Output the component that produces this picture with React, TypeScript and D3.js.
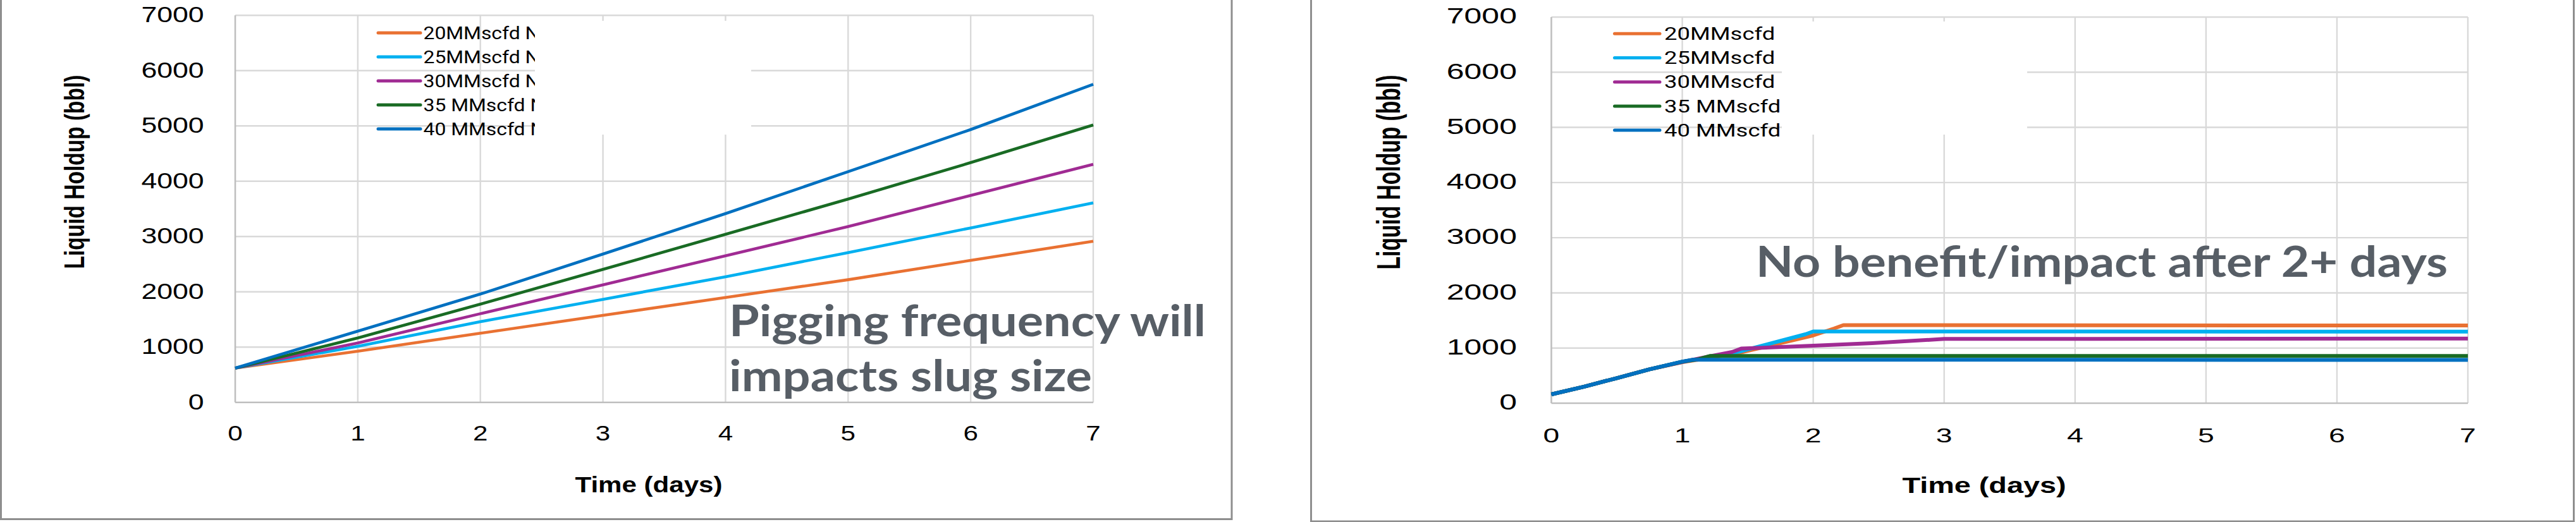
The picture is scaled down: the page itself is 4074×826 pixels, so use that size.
import React from "react";
import * as d3 from "d3";

// ---------- DATA ----------
const seriesNames = ["20MMscfd", "25MMscfd", "30MMscfd", "35 MMscfd", "40 MMscfd"];
const seriesColors = ["#E97132", "#00B0F0", "#A02B93", "#196B24", "#0070C0"];
const leftLegendLabels = [
  "20MMscfd No Pigging",
  "25MMscfd No Pigging",
  "30MMscfd No Pigging",
  "35 MMscfd No Pigging",
  "40 MMscfd No Pigging",
];
const rightLegendLabels = [
  "20MMscfd Pigging",
  "25MMscfd Pigging",
  "30MMscfd Pigging",
  "35 MMscfd Pigging",
  "40 MMscfd Pigging",
];
const yTicks = [0, 1000, 2000, 3000, 4000, 5000, 6000, 7000];
const xTicks = [0, 1, 2, 3, 4, 5, 6, 7];

// Left chart: no pigging (days 0..7)
const leftDays = [0, 1, 2, 3, 4, 5, 6, 7];
const left20 = [620, 926, 1251, 1575, 1898, 2219, 2569, 2915];
const left25 = [620, 1015, 1461, 1864, 2272, 2710, 3156, 3609];
const left30 = [620, 1075, 1605, 2127, 2653, 3180, 3743, 4306];
const left35 = [620, 1166, 1777, 2406, 3040, 3678, 4337, 5018];
const left40 = [620, 1289, 1960, 2683, 3415, 4173, 4935, 5754];

// Right chart: with pigging
const right20Days = [0, 0.25, 0.5, 0.75, 1.0, 1.2, 1.45, 2.0, 2.16, 2.23, 7];
const right20 = [160, 300, 455, 615, 745, 820, 920, 1229, 1355, 1415, 1408];
const right25Days = [0, 0.25, 0.5, 0.75, 1.0, 1.2, 1.45, 1.94, 2.0, 7];
const right25 = [160, 300, 455, 615, 750, 835, 943, 1249, 1300, 1298];
const right30Days = [0, 0.25, 0.5, 0.75, 1.0, 1.2, 1.38, 1.45, 2.0, 2.45, 3.0, 7];
const right30 = [160, 300, 455, 615, 748, 845, 928, 990, 1042, 1088, 1165, 1172];
const right35Days = [0, 0.25, 0.5, 0.75, 1.0, 1.13, 1.21, 7];
const right35 = [160, 300, 455, 615, 752, 800, 855, 855];
const right40Days = [0, 0.25, 0.5, 0.75, 1.0, 1.08, 7];
const right40 = [160, 300, 455, 615, 755, 788, 785];

const leftSeries = [left20, left25, left30, left35, left40].map((vals) =>
  vals.map((v, i) => [leftDays[i], v] as [number, number])
);
const rightSeries = [
  [right20Days, right20],
  [right25Days, right25],
  [right30Days, right30],
  [right35Days, right35],
  [right40Days, right40],
].map(([ds, vs]) => (vs as number[]).map((v, i) => [(ds as number[])[i], v] as [number, number]));

// ---------- LAYOUT ----------
const W = 4074;
const H = 826;

type PanelCfg = {
  x0: number; x1: number; y0: number; y1: number;
  sx: number; lineW: number;
  yTickRight: number; yTickSize: number; yTickDy: number;
  xTickBase: number; xTickSize: number;
  yTitleX: number; yTitleY: number; yTitleLen: number;
  xTitleX: number; xTitleY: number; xTitleLen: number;
  legLineX0: number; legLineX1: number; legTextX: number; legY0: number; legDy: number; legSx: number;
  maskX0: number; maskX1: number; maskY0: number; maskY1: number;
  frameL: number; frameR: number; frameB: number;
};

const leftCfg: PanelCfg = {
  x0: 372, x1: 1729, y0: 636.8, y1: 24.3, sx: 1.24, lineW: 4.6,
  yTickRight: 322.7, yTickSize: 36, yTickDy: 11,
  xTickBase: 697.3, xTickSize: 34,
  yTitleX: 133, yTitleY: 272, yTitleLen: 307,
  xTitleX: 1026, xTitleY: 779, xTitleLen: 233,
  legLineX0: 598, legLineX1: 665, legTextX: 669.5, legY0: 52, legDy: 38, legSx: 1.18,
  maskX0: 846, maskX1: 1188, maskY0: 33, maskY1: 213,
  frameL: 1.5, frameR: 1948, frameB: 821.5,
};
const rightCfg: PanelCfg = {
  x0: 2453.5, x1: 3903, y0: 638, y1: 27, sx: 1.45, lineW: 6,
  yTickRight: 2399, yTickSize: 34.5, yTickDy: 10.3,
  xTickBase: 700, xTickSize: 32,
  yTitleX: 2214, yTitleY: 272.6, yTitleLen: 308,
  xTitleX: 3138, xTitleY: 780, xTitleLen: 259,
  legLineX0: 2553.5, legLineX1: 2625, legTextX: 2632, legY0: 53.3, legDy: 38.2, legSx: 1.35,
  maskX0: 2818, maskX1: 3206, maskY0: 34, maskY1: 213,
  frameL: 2073.5, frameR: 4070.5, frameB: 825,
};

const GRID = "#D9D9D9";
const AXIS = "#BFBFBF";
const FRAME = "#8E8E8E";
const NOTE = "#575E66";
const TICKFONT = "'Liberation Sans', Arial, sans-serif";

function Panel({ cfg, series, legendLabels, id, note }: {
  cfg: PanelCfg; series: [number, number][][]; legendLabels: string[]; id: string; note: React.ReactNode;
}) {
  const x = d3.scaleLinear().domain([0, 7]).range([cfg.x0, cfg.x1]);
  const y = d3.scaleLinear().domain([0, 7000]).range([cfg.y0, cfg.y1]);
  const line = d3.line<[number, number]>().x((d) => x(d[0])).y((d) => y(d[1])).curve(d3.curveLinear);

  return (
    <g>
      <defs>
        <clipPath id={`legclip-${id}`}>
          <rect x={0} y={0} width={cfg.maskX0} height={H} />
        </clipPath>
      </defs>
      {/* frame */}
      <path
        d={`M${cfg.frameL},-10 V${cfg.frameB} H${cfg.frameR} V-10`}
        fill="none" stroke={FRAME} strokeWidth={3}
      />
      {/* gridlines */}
      {yTicks.filter((t) => t > 0).map((t) => (
        <line key={`gy${t}`} x1={x(0)} x2={x(7)} y1={y(t)} y2={y(t)} stroke={GRID} strokeWidth={2.4} />
      ))}
      {xTicks.filter((t) => t > 0).map((t) => (
        <line key={`gx${t}`} x1={x(t)} x2={x(t)} y1={y(0)} y2={y(7000)} stroke={GRID} strokeWidth={2.4} />
      ))}
      {/* axes */}
      <line x1={x(0)} x2={x(0)} y1={y(0)} y2={y(7000)} stroke={AXIS} strokeWidth={2.6} />
      <line x1={x(0)} x2={x(7)} y1={y(0)} y2={y(0)} stroke={AXIS} strokeWidth={2.6} />
      {/* legend mask */}
      <rect x={cfg.maskX0} y={cfg.maskY0} width={cfg.maskX1 - cfg.maskX0} height={cfg.maskY1 - cfg.maskY0} fill="#fff" />
      {/* tick labels */}
      {yTicks.map((t) => (
        <text key={`yt${t}`} transform={`translate(${cfg.yTickRight},${y(t) + cfg.yTickDy}) scale(${cfg.sx},1)`}
          textAnchor="end" fontFamily={TICKFONT} fontSize={cfg.yTickSize} fill="#000">{t}</text>
      ))}
      {xTicks.map((t) => (
        <text key={`xt${t}`} transform={`translate(${x(t)},${cfg.xTickBase}) scale(${cfg.sx},1)`}
          textAnchor="middle" fontFamily={TICKFONT} fontSize={cfg.xTickSize} fill="#000">{t}</text>
      ))}
      {/* axis titles */}
      <text transform={`translate(${cfg.yTitleX},${cfg.yTitleY}) scale(${cfg.sx},1) rotate(-90)`}
        textAnchor="middle" fontFamily={TICKFONT} fontWeight={700} fontSize={36}
        textLength={cfg.yTitleLen} lengthAdjust="spacingAndGlyphs" fill="#000">Liquid Holdup (bbl)</text>
      <text x={cfg.xTitleX} y={cfg.xTitleY} textAnchor="middle" fontFamily={TICKFONT} fontWeight={700} fontSize={35}
        textLength={cfg.xTitleLen} lengthAdjust="spacingAndGlyphs" fill="#000">Time (days)</text>
      {/* annotation */}
      {note}
      {/* legend */}
      <g clipPath={`url(#legclip-${id})`}>
        {legendLabels.map((lab, i) => {
          const ly = cfg.legY0 + i * cfg.legDy;
          return (
            <g key={lab}>
              <line x1={cfg.legLineX0} x2={cfg.legLineX1} y1={ly} y2={ly} stroke={seriesColors[i]}
                strokeWidth={5} strokeLinecap="round" />
              <text transform={`translate(${cfg.legTextX},${ly + 9.6}) scale(${cfg.legSx},1)`}
                fontFamily="Roboto, sans-serif" fontSize={27} fill="#000">{lab}</text>
            </g>
          );
        })}
      </g>
      {/* series */}
      {series.map((s, i) => (
        <path key={seriesNames[i]} d={line(s) || ""} fill="none" stroke={seriesColors[i]}
          strokeWidth={cfg.lineW} strokeLinejoin="round" strokeLinecap="butt" />
      ))}
    </g>
  );
}

export default function App() {
  const noteFont = "Lato, 'Open Sans', sans-serif";
  return (
    <svg width={W} height={H} viewBox={`0 0 ${W} ${H}`}
      style={{ position: "absolute", left: 0, top: 0, background: "#fff", display: "block" }}>
      <rect x={0} y={0} width={W} height={H} fill="#fff" />
      <Panel cfg={leftCfg} series={leftSeries} legendLabels={leftLegendLabels} id="L"
        note={
          <g fontFamily={noteFont} fontWeight={700} fontSize={69} fill={NOTE}>
            <text x={1153} y={532} textLength={754} lengthAdjust="spacingAndGlyphs">Pigging frequency will</text>
            <text x={1153} y={619} textLength={574} lengthAdjust="spacingAndGlyphs">impacts slug size</text>
          </g>
        } />
      <Panel cfg={rightCfg} series={rightSeries} legendLabels={rightLegendLabels} id="R"
        note={
          <text x={2777} y={438} fontFamily={noteFont} fontWeight={700} fontSize={67} fill={NOTE}
            textLength={1094} lengthAdjust="spacingAndGlyphs">No benefit/impact after 2+ days</text>
        } />
    </svg>
  );
}
